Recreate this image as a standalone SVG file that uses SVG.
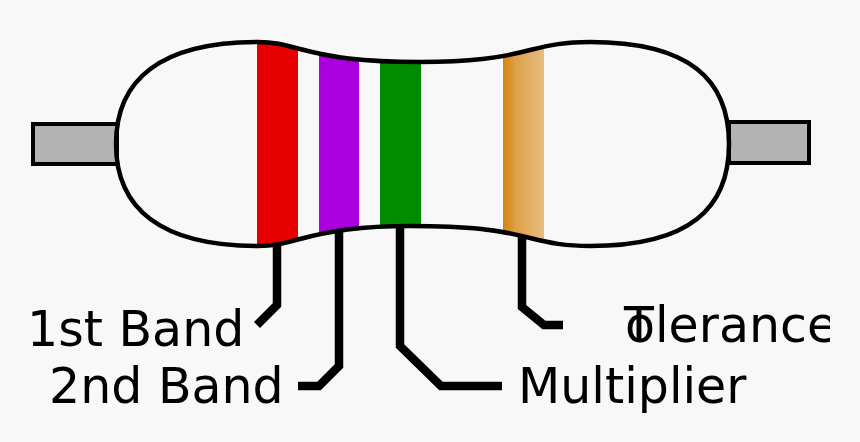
<svg xmlns="http://www.w3.org/2000/svg" width="860" height="442" viewBox="0 0 860 442">
<style>
.lead{fill:#b3b3b3;stroke:#000;stroke-width:4}
.outline{fill:none;stroke:#000;stroke-width:4.5}
.wire{fill:none;stroke:#000;stroke-width:8.5}
.label{font-family:"DejaVu Sans",sans-serif;font-size:49px;fill:#000}
</style>
<defs>
<linearGradient id="gold" x1="503" x2="544" y1="0" y2="0" gradientUnits="userSpaceOnUse">
<stop offset="0" stop-color="#d4850f"/><stop offset="0.35" stop-color="#dea24f"/><stop offset="1" stop-color="#e8bd80"/>
</linearGradient>
<clipPath id="body"><path d="M258 42C275 42 285 45 300 49C330 57 360 62 420 62C470 62 500 58 530 50C550 45 565 42 590 42C690 42 729 80 729 144C729 208 690 246 590 246C565 246 550 243 530 238C500 230 470 226 410 226C360 226 330 231 300 239C285 243 275 246 258 246C160 246 116 208 116 144C116 80 160 42 258 42Z"/></clipPath>
<clipPath id="edge"><rect x="0" y="0" width="830" height="442"/></clipPath>
</defs>
<rect width="860" height="442" fill="#f8f8f8"/>
<g id="lead-left"><rect class="lead" x="33" y="124" width="84" height="40"/></g>
<g id="lead-right"><rect class="lead" x="729" y="122" width="80" height="41"/></g>
<g id="resistor-body">
<g clip-path="url(#body)">
<rect id="band-1" x="257" y="40" width="41" height="210" fill="#e60000"/>
<rect id="band-2" x="319" y="40" width="40" height="210" fill="#aa00dd"/>
<rect id="band-3" x="380" y="40" width="41" height="210" fill="#008c00"/>
<rect id="band-4" x="503" y="40" width="41" height="210" fill="url(#gold)"/>
</g>
<path class="outline" d="M258 42C275 42 285 45 300 49C330 57 360 62 420 62C470 62 500 58 530 50C550 45 565 42 590 42C690 42 729 80 729 144C729 208 690 246 590 246C565 246 550 243 530 238C500 230 470 226 410 226C360 226 330 231 300 239C285 243 275 246 258 246C160 246 116 208 116 144C116 80 160 42 258 42Z"/>
</g>
<g id="connectors">
<path class="wire" d="M277 246V305L257 325"/>
<path class="wire" d="M339 232V366L319 386H298"/>
<path class="wire" d="M400 227V346L441 386H502"/>
<path class="wire" d="M522 236V307L544 325H563"/>
</g>
<g id="label-1"><text class="label" x="27" y="346">1st Band</text></g>
<g id="label-2"><text class="label" x="49" y="403">2nd Band</text></g>
<g id="label-3"><text class="label" x="518" y="403">Multiplier</text></g>
<g id="label-4" clip-path="url(#edge)"><text class="label" x="624 625" y="342">Tolerance</text></g>
</svg>
